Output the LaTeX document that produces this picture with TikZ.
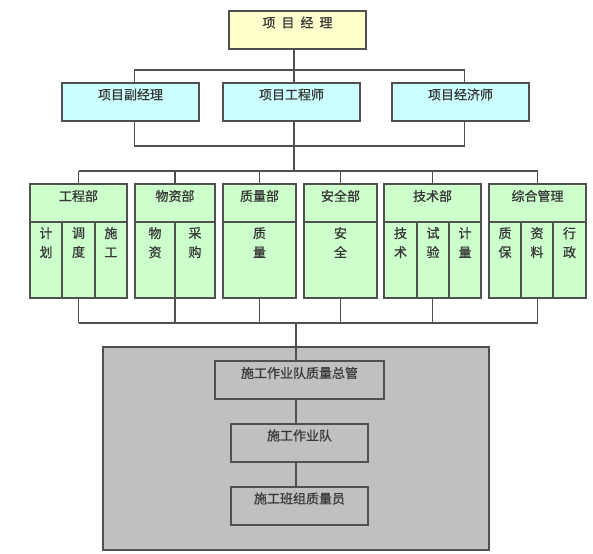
\documentclass[tikz,border=0pt]{standalone}
\usepackage{fontspec}
\newfontfamily\cjk[FakeBold=0.8]{Noto Sans CJK SC}
\definecolor{linec}{HTML}{505050}
\definecolor{txtc}{HTML}{383838}
\definecolor{yel}{HTML}{FFFFCC}
\definecolor{cyn}{HTML}{CCFFFF}
\definecolor{grn}{HTML}{CCFFCC}
\definecolor{gry}{HTML}{C0C0C0}
\begin{document}
\begin{tikzpicture}[x=1pt,y=-1pt,
  box/.style={draw=linec, line width=1.1pt, anchor=north west, inner sep=0pt, outer sep=0pt},
  txt/.style={font=\cjk\fontsize{13}{19}\selectfont, text=txtc, inner sep=0pt, align=center},
  conn/.style={draw=linec, line width=1.1pt},
  divl/.style={draw=linec, line width=1.1pt}]
\useasboundingbox (0,0) rectangle (593,553);
\fill[white] (0,0) rectangle (593,553);

% top
\node[box, fill=yel, minimum width=137pt, minimum height=38pt] (pm) at (229,11) {};
\path (pm.north) ++(0,11.5) node[txt] (pmt) {项\hspace{6pt}目\hspace{6pt}经\hspace{6pt}理};

% second row
\node[box, fill=cyn, minimum width=137pt, minimum height=38pt] (dpm) at (62,83) {};
\node[box, fill=cyn, minimum width=137pt, minimum height=38pt] (pe) at (223,83) {};
\node[box, fill=cyn, minimum width=137pt, minimum height=38pt] (pec) at (392,83) {};
\path (dpm.north) ++(0,11.5) node[txt] (dpmt) {项目副经理};
\path (pe.north) ++(0,11.5) node[txt] (pet) {项目工程师};
\path (pec.north) ++(0,11.5) node[txt] (pect) {项目经济师};

\coordinate (sp) at (294,0);
\coordinate (b1) at (0,70);
\coordinate (b2) at (0,146);
\coordinate (b3) at (0,171);
\coordinate (b4) at (0,323);
\coordinate (spb) at (296,0);

\draw[conn] (sp |- pm.south) -- (sp |- pe.north);
\draw[conn] ([xshift=4pt]dpm.north) -- ([xshift=4pt]dpm.north |- b1) -- ([xshift=4pt]pec.north |- b1) -- ([xshift=4pt]pec.north);
\draw[conn] ([xshift=4pt]dpm.south) -- ([xshift=4pt]dpm.south |- b2) -- ([xshift=4pt]pec.south |- b2) -- ([xshift=4pt]pec.south);
\draw[conn] (sp |- pe.south) -- (sp |- b3);

% departments
\foreach \n/\x/\w/\t in {eng/30/97/工程部, mat/135/80/物资部, qual/223/73/质量部, saf/304/73/安全部, tech/384/97/技术部, gen/489/97/综合管理}{
  \node[box, fill=grn, minimum width=\w pt, minimum height=38pt] (h\n) at (\x,184) {};
  \node[box, fill=grn, minimum width=\w pt, minimum height=76pt] (b\n) at (\x,222) {};
  \path (h\n.north) ++(0,12) node[txt] (t\n) {\t};
}
% dividers
\foreach \x in {62,95,175,417,449,521,553}{
  \draw[divl] (\x,222) -- (\x,298);
}
% sub texts
\foreach \x/\t [count=\i] in {46/计\\划, 78.5/调\\度, 111/施\\工, 155/物\\资, 195/采\\购, 259.5/质\\量, 340.5/安\\全, 400.5/技\\术, 433/试\\验, 465/计\\量, 505/质\\保, 537/资\\料, 569.5/行\\政}{
  \node[txt, anchor=north] (s\i) at (\x,227) {\t};
}

% bus to departments
\draw[conn] (heng.north |- b3) -- (hgen.north |- b3);
\foreach \n in {eng,mat,qual,saf,tech,gen}{
  \draw[conn] (h\n.north |- b3) -- (h\n.north);
  \draw[conn] (b\n.south) -- (b\n.south |- b4);
}
\draw[conn] (beng.south |- b4) -- (bgen.south |- b4);

% bottom area
\node[box, fill=gry, minimum width=386pt, minimum height=203pt] (area) at (103,347) {};
\node[box, fill=gry, minimum width=169pt, minimum height=38pt] (q1) at (215,361) {};
\node[box, fill=gry, minimum width=137pt, minimum height=38pt] (q2) at (231,424) {};
\node[box, fill=gry, minimum width=137pt, minimum height=38pt] (q3) at (231,487) {};
\path (q1.north) ++(0,12) node[txt] (q1t) {施工作业队质量总管};
\path (q2.north) ++(0,11.5) node[txt] (q2t) {施工作业队};
\path (q3.north) ++(0,11.5) node[txt] (q3t) {施工班组质量员};

\draw[conn] (spb |- b4) -- (spb |- q1.north);
\draw[conn] (spb |- q1.south) -- (spb |- q2.north);
\draw[conn] (spb |- q2.south) -- (spb |- q3.north);
\end{tikzpicture}
\end{document}
